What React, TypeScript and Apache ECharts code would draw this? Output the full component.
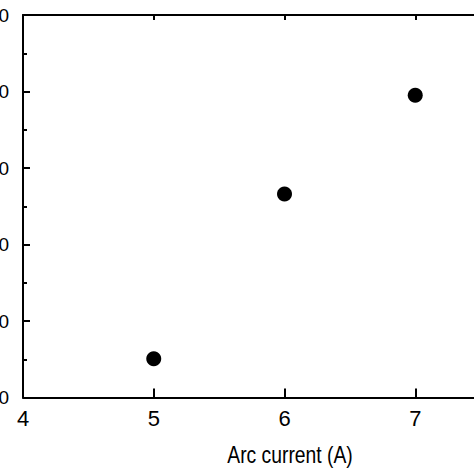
import React, { useEffect, useRef } from "react";
import * as echarts from "echarts";

const arcCurrent = [5, 6, 7];
const measuredValues = [10.1, 53.2, 79.0];
const xRange = [4, 8];
const xStep = 1;
const yRange = [0, 100];
const yStep = 20;
const xTitle = "Arc current (A)";

export default function App() {
  const ref = useRef<HTMLDivElement>(null);
  useEffect(() => {
    if (!ref.current) return;
    const chart = echarts.init(ref.current, null, { renderer: "svg" });
    const font = "'Liberation Sans', Arial, sans-serif";
    const axisLine = { show: true, lineStyle: { color: "#000", width: 2 } };
    chart.setOption({
      animation: false,
      backgroundColor: "#fff",
      grid: {
        left: 23,
        top: 15,
        bottom: 76.5,
        right: -72,
        containLabel: false,
        outerBoundsMode: "none",
      },
      graphic: [
        {
          type: "text",
          x: 290,
          y: 455,
          scaleX: 0.84,
          style: {
            text: xTitle,
            fill: "#000",
            font: "23px 'Liberation Sans', Arial, sans-serif",
            textAlign: "center",
            textVerticalAlign: "middle",
          },
        },
      ],
      xAxis: [
        {
          type: "value",
          position: "bottom",
          min: xRange[0],
          max: xRange[1],
          interval: xStep,
          axisLine,
          axisTick: { show: true, inside: true, length: 9, lineStyle: { color: "#000", width: 2 } },
          axisLabel: { color: "#000", fontSize: 22, fontFamily: font, margin: 10 },
          splitLine: { show: false },
        },
        {
          type: "value",
          position: "top",
          min: xRange[0],
          max: xRange[1],
          interval: xStep,
          axisLine,
          axisTick: { show: true, inside: true, length: 5, lineStyle: { color: "#000", width: 2 } },
          axisLabel: { show: false },
          splitLine: { show: false },
        },
      ],
      yAxis: [
        {
          type: "value",
          position: "left",
          min: yRange[0],
          max: yRange[1],
          interval: yStep,
          axisLine,
          axisTick: { show: true, inside: true, length: 7, lineStyle: { color: "#000", width: 2 } },
          minorTick: { show: true, splitNumber: 2, length: 4, lineStyle: { color: "#000", width: 2 } },
          axisLabel: { color: "#000", fontSize: 19, fontFamily: font, margin: 14 },
          splitLine: { show: false },
        },
      ],
      series: [
        {
          type: "scatter",
          xAxisIndex: 0,
          yAxisIndex: 0,
          symbol: "circle",
          symbolSize: 15,
          itemStyle: { color: "#000", opacity: 1 },
          data: arcCurrent.map((x, i) => [x, measuredValues[i]]),
        },
      ],
    });
    return () => chart.dispose();
  }, []);
  return (
    <div
      ref={ref}
      style={{ position: "fixed", left: 0, top: 0, width: 474, height: 474, overflow: "hidden", background: "#fff" }}
    />
  );
}
